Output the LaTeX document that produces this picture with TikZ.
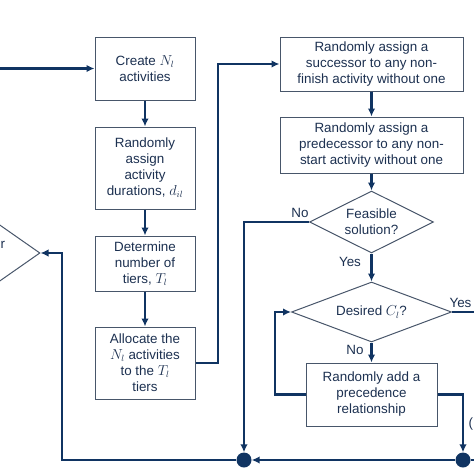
\documentclass[tikz,border=0pt]{standalone}
\usepackage{fontspec}
\setmainfont{Liberation Sans}
\usepackage{amsmath}
\usetikzlibrary{arrows.meta,shapes.geometric}
\definecolor{navy}{RGB}{16,52,98}
\definecolor{boxline}{RGB}{72,86,106}
\definecolor{labeltext}{RGB}{28,48,80}
\tikzstyle{process}=[rectangle, draw=boxline
,line width=1pt
,text=labeltext
,align=center
,inner sep=0pt
]
\tikzstyle{decision} = [diamond, aspect=2, draw=boxline, line width=1pt, text=labeltext, align=center, inner sep=0pt]
\tikzstyle{junction} = [circle, fill=navy, minimum size=15pt, inner sep=0pt]
\tikzstyle{answer} = [text=labeltext]
\tikzstyle{edge} = [draw=navy, line width=2.4pt, -{Latex[length=8pt,width=7.5pt]}]
\tikzstyle{line} = [draw=navy, line width=2.4pt, -]

\begin{document}
\begin{tikzpicture}[x=1pt,y=-1pt,font=\fontsize{13.4}{16}\selectfont]
    \useasboundingbox (0,0) rectangle (474,474);
    \clip (0,0) rectangle (474,474);
    % First we draw the steps
    \foreach \pos/\name/\w/\h/\txt in {{(145,68.5)/create/100/63/{Create $N_l$\\activities}},
        {(145,168)/durations/100/82/{Randomly\\assign\\activity\\durations, $d_{il}$}},
        {(145,263.5)/tiers/100/55/{Determine\\number of\\tiers, $T_l$}},
        {(145,363)/allocate/100/72/{Allocate the\\$N_l$ activities\\to the $T_l$\\tiers}},
        {(371.5,64)/successor/183/54/{Randomly assign a\\successor to any non-\\finish activity without one}},
        {(371.5,145)/predecessor/183/56/{Randomly assign a\\predecessor to any non-\\start activity without one}},
        {(371.5,394.5)/precedence/131/63/{Randomly add a\\precedence\\relationship}}}
        \node[process, minimum width=\w pt, minimum height=\h pt] (\name) at \pos {\txt};

    % Then the decisions
    \foreach \pos/\name/\w/\h/\txt in {{(371.5,222)/feasible/124/62/{Feasible\\solution?}},
        {(371.5,312)/desired/160/60/{Desired $C_l$?}},
        {(-30,253)/repeat/140/98/{}}}
        \node[decision, minimum width=\w pt, minimum height=\h pt] (\name) at \pos {\txt};
    \node[answer, anchor=west, inner sep=0.5pt] (cut) at (0,245) {r};

    % Junctions and free ends
    \node[junction] (J_1) at (244,460) {};
    \node[junction] (J_2) at (463,460) {};
    \coordinate (start) at (0,68.5);
    \coordinate (up) at (218,64);
    \coordinate (loop) at (275,394.5);
    \coordinate (back) at (62,460);
    \coordinate (out_1) at (474,312);
    \coordinate (out_2) at (474,460);

    % Connect steps with edges
    \foreach \source/ \dest in {start/create, create/durations, durations/tiers, tiers/allocate,
        successor/predecessor, predecessor/feasible, feasible/desired, desired/precedence, J_2/J_1}
        \path[edge] (\source) -- (\dest);
    \path[edge] (allocate.east) -| (up) -- (successor.west);
    \path[edge] (feasible.west) -| (J_1);
    \path[edge] (precedence.west) -- (loop) |- (desired.west);
    \path[edge] (precedence.east) -| (J_2);
    \path[edge] (J_1) -- (back) |- (repeat.east);
    \path[line] (desired.east) -- (out_1);
    \path[line] (J_2) -- (out_2);

    % Answers
    \node[answer] (no_1) at (300,213) {No};
    \node[answer] (yes_1) at (350,262) {Yes};
    \node[answer] (no_2) at (355,350) {No};
    \node[answer, anchor=west] (yes_2) at (446,303) {Yes};
    \node[answer, anchor=west] (paren) at (465,424) {(};
\end{tikzpicture}
\end{document}
